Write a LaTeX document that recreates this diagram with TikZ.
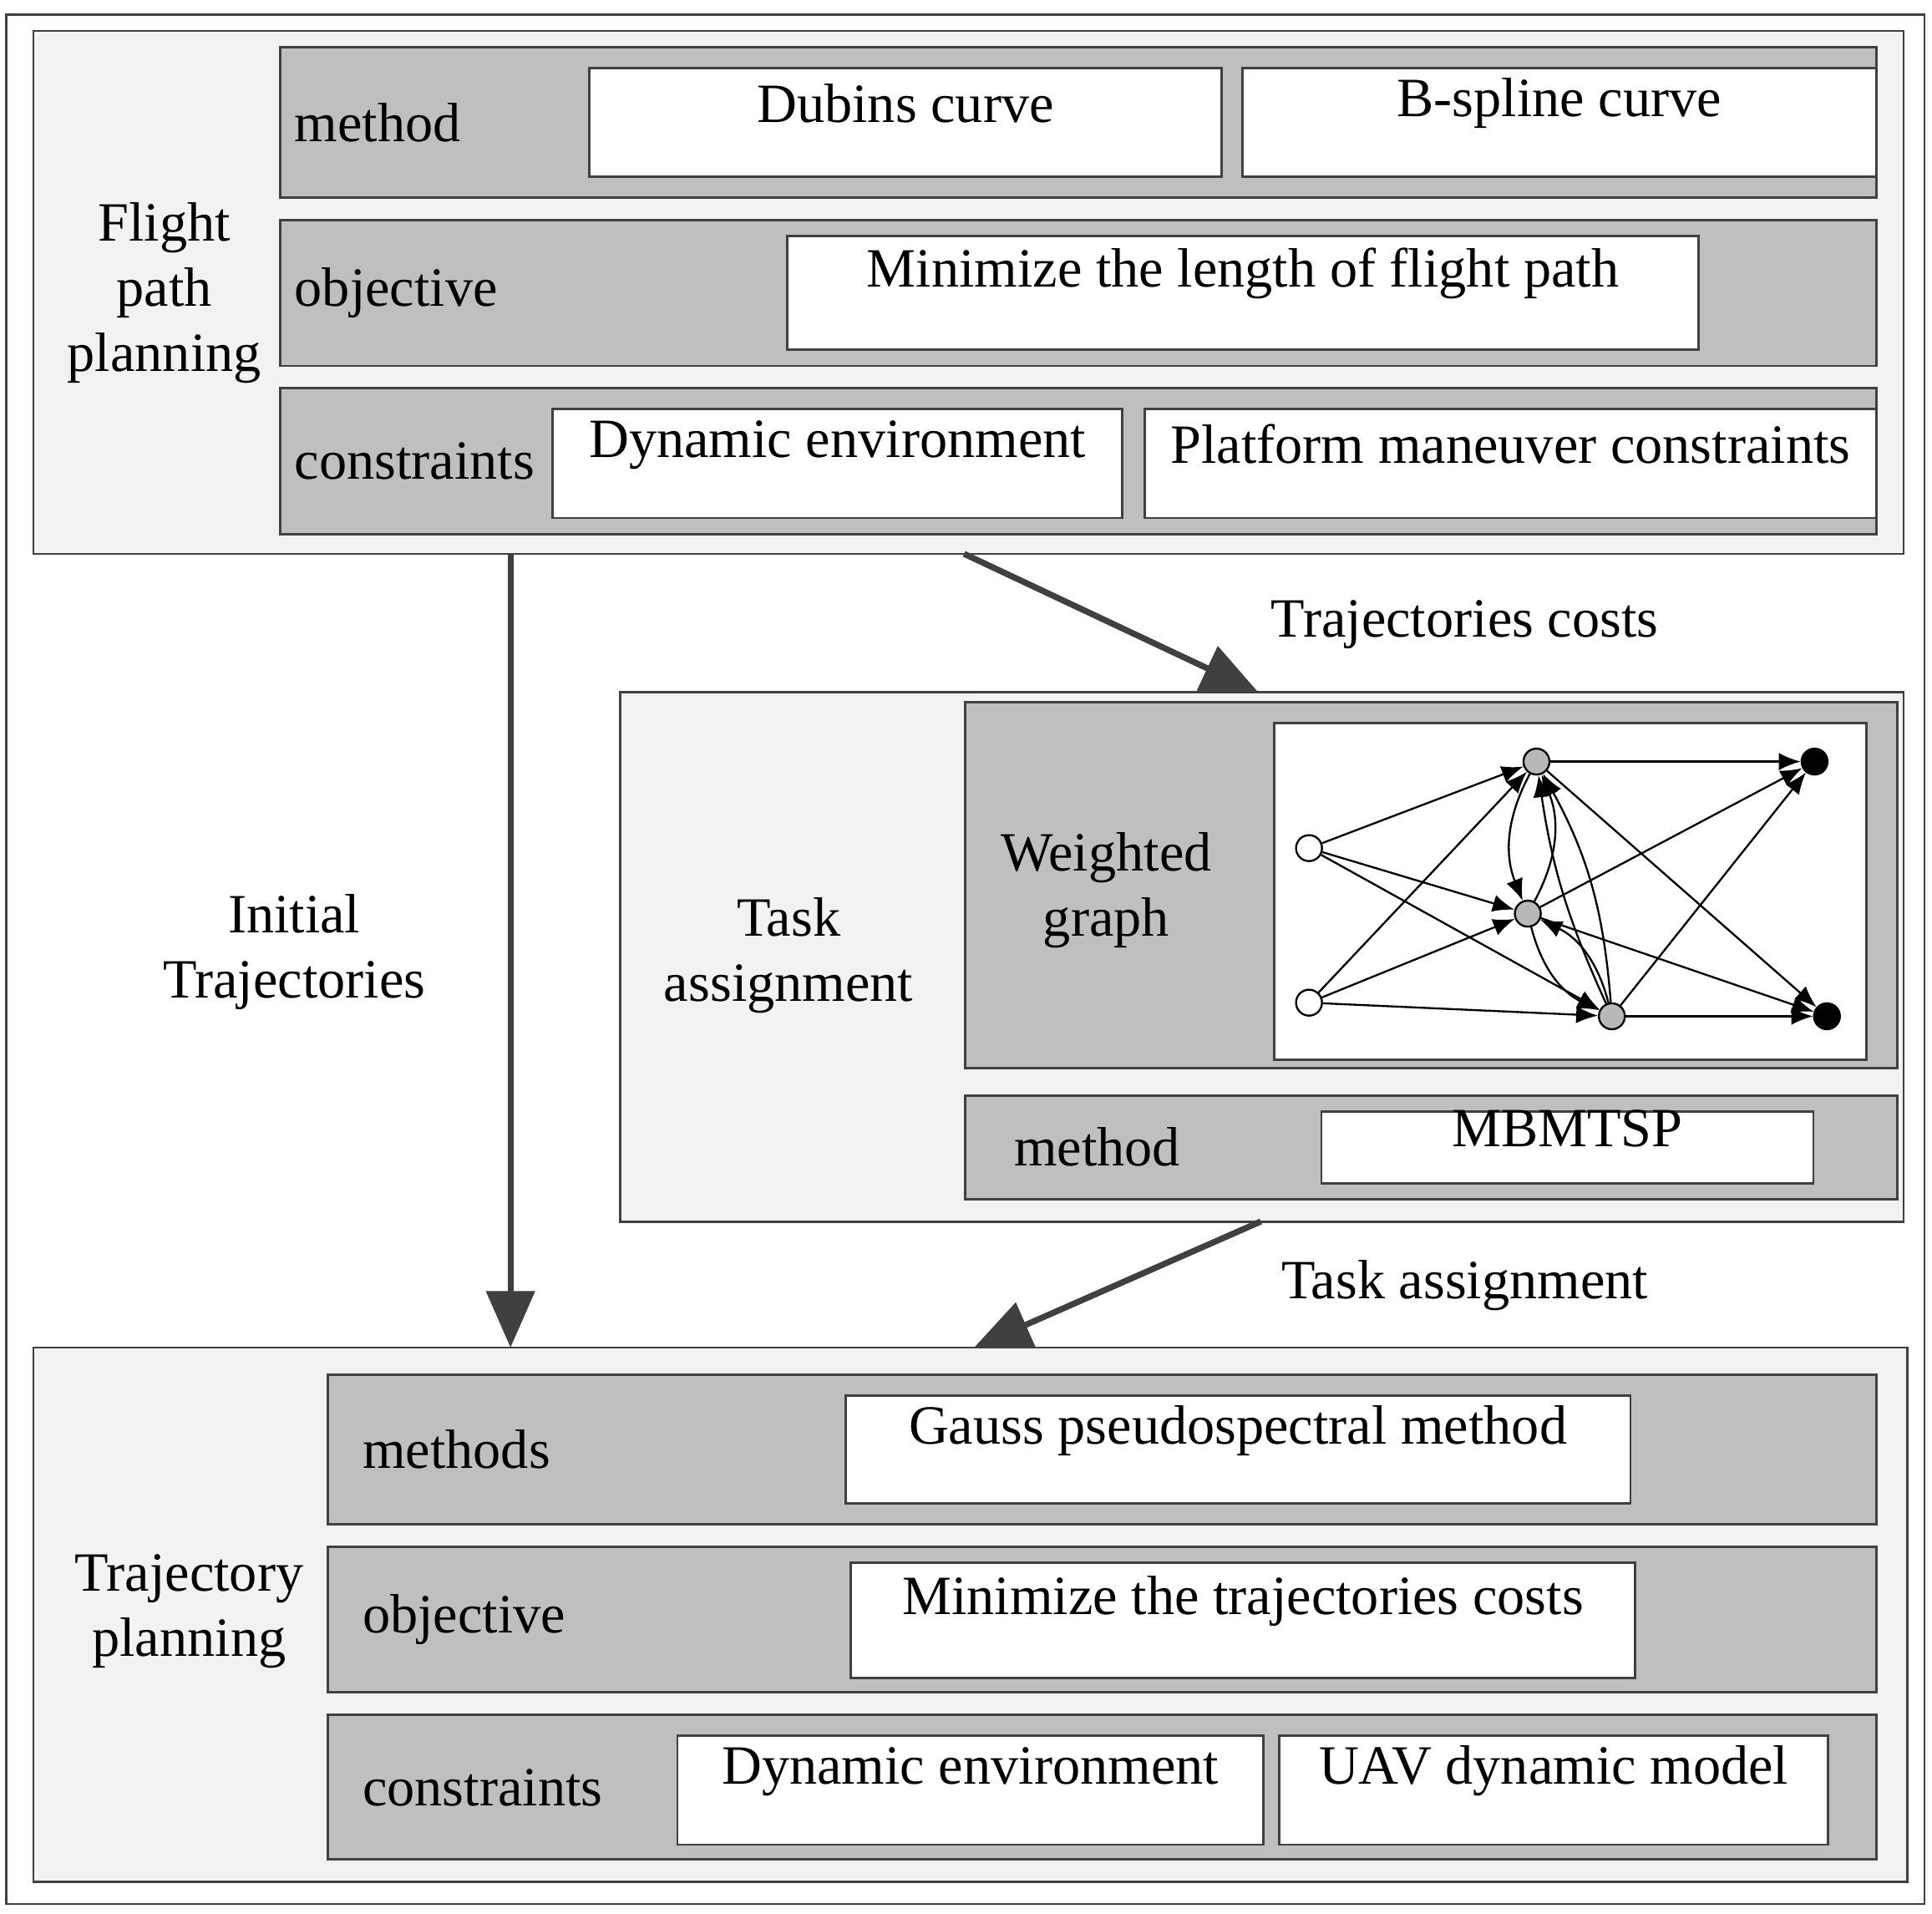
\documentclass[tikz,border=0pt]{standalone}
\usepackage{fontspec}
\setmainfont{Liberation Serif}
\usetikzlibrary{fit,arrows.meta}
\definecolor{rowgray}{gray}{0.75}
\definecolor{panel}{gray}{0.95}
\definecolor{edge}{gray}{0.25}
\definecolor{mid}{gray}{0.72}
\newcommand{\bx}[7]{%
  \path (#2,#3) coordinate (#1-a) (#4,#5) coordinate (#1-b);
  \node[fit=(#1-a)(#1-b), inner sep=0pt, #6] (#1) {#7};}
\begin{document}
\fontsize{25.5}{30}\selectfont
\begin{tikzpicture}[x=0.02cm,y=-0.02cm,
  frame/.style={draw=edge, line width=1.1pt},
  panelbox/.style={frame, fill=panel},
  row/.style={frame, fill=rowgray},
  wbox/.style={frame, fill=white},
  lbl/.style={inner sep=0pt, anchor=west},
  flow/.style={draw=edge, line width=2.8pt, -{Triangle[length=26pt,width=22pt]}},
  gn/.style={circle, draw=black, line width=0.9pt, minimum size=0.42cm, inner sep=0pt},
  ge/.style={-{Latex[length=10pt,width=8pt]}, line width=0.9pt, shorten >=0pt}]
\useasboundingbox (0,0) rectangle (1563,1548);
\bx{outer}{5}{12}{1557}{1540}{draw=edge, line width=1pt}{}
% Flight path planning
\bx{fp}{27}{25}{1540}{448}{panelbox}{}
\node[align=center, inner sep=0pt] (fpl) at (133,237) {Flight\\path\\planning};
\bx{r1}{227}{38}{1518}{160}{row}{}
\node[lbl] (r1l) at (238,99) {method};
\bx{dub}{477}{55}{988}{143}{wbox}{Dubins curve}
\bx{bsp}{1005}{55}{1518}{143}{wbox}{B-spline curve}
\bx{r2}{227}{178}{1518}{296}{row}{}
\node[lbl] (r2l) at (238,237) {objective};
\bx{minl}{637}{191}{1374}{283}{wbox}{Minimize the length of flight path}
\bx{r3}{227}{314}{1518}{432}{row}{}
\node[lbl] (r3l) at (238,373) {constraints};
\bx{dyn1}{447}{331}{908}{419}{wbox}{Dynamic environment}
\bx{pmc}{926}{331}{1518}{419}{wbox}{Platform maneuver constraints}
% Task assignment
\bx{ta}{502}{560}{1540}{988}{panelbox}{}
\node[align=center, inner sep=0pt] (tal) at (638,773) {Task\\assignment};
\bx{wr}{781}{568}{1535}{864}{row}{}
\node[align=center, inner sep=0pt] (wrl) at (895,720) {Weighted\\graph};
\bx{gb}{1031}{585}{1510}{857}{wbox}{}
\bx{mr}{781}{886}{1535}{970}{row}{}
\node[lbl] (mrl) at (820,928) {method};
\bx{mb}{1069}{899}{1467}{957}{wbox}{MBMTSP}
% graph
\node[gn, fill=white] (s1) at (1059,686) {};
\node[gn, fill=white] (s2) at (1059,811) {};
\node[gn, fill=mid] (m1) at (1243,616) {};
\node[gn, fill=mid] (m2) at (1236,739) {};
\node[gn, fill=mid] (m3) at (1304,822) {};
\node[gn, fill=black] (t1) at (1468,616) {};
\node[gn, fill=black] (t2) at (1478,822) {};
\foreach \a/\b in {s1/m1,s1/m2,s1/m3,s2/m1,s2/m2,s2/m3,m1/t1,m3/t2,m2/t1,m1/t2,m3/t1,m2/t2}
  \draw[ge] (\a) -- (\b);
\draw[ge] (m1) to[bend right=25] (m2);
\draw[ge] (m2) to[bend right=25] (m1);
\draw[ge] (m2) to[bend right=25] (m3);
\draw[ge] (m3) to[bend right=25] (m2);
\draw[ge] (m3) to[bend left=8] (m1);
\draw[ge] (m3) to[bend right=12] (m1);
% Trajectory planning
\bx{tp}{27}{1090}{1543}{1522}{panelbox}{}
\node[align=center, inner sep=0pt] (tpl) at (153,1303) {Trajectory\\planning};
\bx{q1}{265}{1112}{1518}{1233}{row}{}
\node[lbl] (q1l) at (293,1172) {methods};
\bx{gpm}{684}{1129}{1319}{1216}{wbox}{Gauss pseudospectral method}
\bx{q2}{265}{1251}{1518}{1369}{row}{}
\node[lbl] (q2l) at (293,1310) {objective};
\bx{mtc}{688}{1264}{1323}{1357}{wbox}{Minimize the trajectories costs}
\bx{q3}{265}{1387}{1518}{1504}{row}{}
\node[lbl] (q3l) at (293,1446) {constraints};
\bx{dyn2}{548}{1404}{1022}{1492}{wbox}{Dynamic environment}
\bx{uav}{1035}{1404}{1479}{1492}{wbox}{UAV dynamic model}
% flows
\coordinate (a1s) at (413,448); \coordinate (a1e) at (413,1090);
\coordinate (a2s) at (780,448); \coordinate (a2e) at (1018,560);
\coordinate (a3s) at (1020,988); \coordinate (a3e) at (788,1090);
\draw[flow] (a1s) -- (a1e);
\draw[flow] (a2s) -- (a2e);
\draw[flow] (a3s) -- (a3e);
\node[align=center, inner sep=0pt] (it) at (238,770) {Initial\\Trajectories};
\node[inner sep=0pt] (tc) at (1185,505) {Trajectories costs};
\node[inner sep=0pt] (tas) at (1185,1040) {Task assignment};
\end{tikzpicture}
\end{document}
